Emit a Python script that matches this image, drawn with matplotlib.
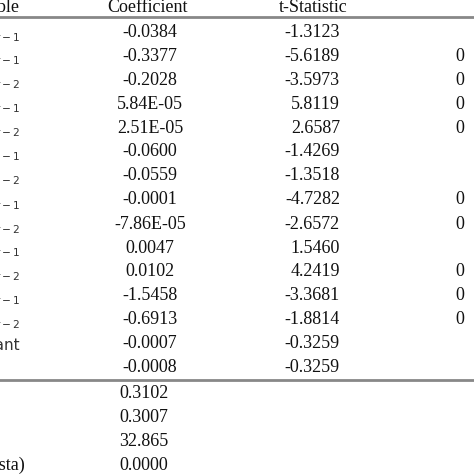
import matplotlib
matplotlib.use("Agg")
import matplotlib.pyplot as plt

header = ["Variable", "Coefficient", "t-Statistic", "Prob."]
labels = [r"$\Delta y_{it-1}$", r"$\Delta x_{it-1}$", r"$\Delta x_{it-2}$", r"$\Delta m_{it-1}$",
          r"$\Delta m_{it-2}$", r"$\Delta e_{it-1}$", r"$\Delta e_{it-2}$", r"$\Delta p_{it-1}$",
          r"$\Delta p_{it-2}$", r"$\Delta s_{it-1}$", r"$\Delta s_{it-2}$", r"$\Delta d_{it-1}$",
          r"$\Delta d_{it-2}$", "Constant", ""]
coef = ["-0.0384", "-0.3377", "-0.2028", "5.84E-05", "2.51E-05", "-0.0600", "-0.0559", "-0.0001",
        "-7.86E-05", "0.0047", "0.0102", "-1.5458", "-0.6913", "-0.0007", "-0.0008"]
tstat = ["-1.3123", "-5.6189", "-3.5973", "5.8119", "2.6587", "-1.4269", "-1.3518", "-4.7282",
         "-2.6572", "1.5460", "4.2419", "-3.3681", "-1.8814", "-0.3259", "-0.3259"]
prob = ["", "0.0000", "0.0004", "0.0000", "0.0081", "", "", "0.0000",
        "0.0081", "", "0.0000", "0.0008", "0.0604", "", ""]
stat_labels = ["", "", "", "Prob(F-sta)"]
stat_vals = ["0.3102", "0.3007", "32.865", "0.0000"]

fig = plt.figure(figsize=(4.74, 4.74), dpi=100)
ax = fig.add_axes([0, 0, 1, 1])
ax.set_xlim(0, 474); ax.set_ylim(474, 0); ax.axis("off")
fs = 13
kw = dict(family="Liberation Serif", fontsize=fs, va="center", color="#111111")

ax.text(20, 7, header[0], ha="right", **kw)
ax.text(148, 7, header[1], ha="center", **kw)
ax.text(313, 7, header[2], ha="center", **kw)
ax.axhline(17, color="#888888", lw=2)

y0, dy = 32, 24.0
for i in range(len(coef)):
    y = y0 + i * dy
    ax.text(20, y + 2, labels[i], ha="right", family="DejaVu Sans", fontsize=11,
            va="center", color="#333333")
    ax.text(150, y, coef[i], ha="center", **kw)
    ax.text(340, y, tstat[i], ha="right", **kw)
    ax.text(455, y, prob[i][:1], ha="left", **kw)
ax.axhline(380, color="#888888", lw=2)
for j in range(len(stat_vals)):
    y = 393 + j * dy
    ax.text(25, y, stat_labels[j], ha="right", **kw)
    ax.text(119, y, stat_vals[j], ha="left", **kw)

fig.savefig("out.png", dpi=100)
